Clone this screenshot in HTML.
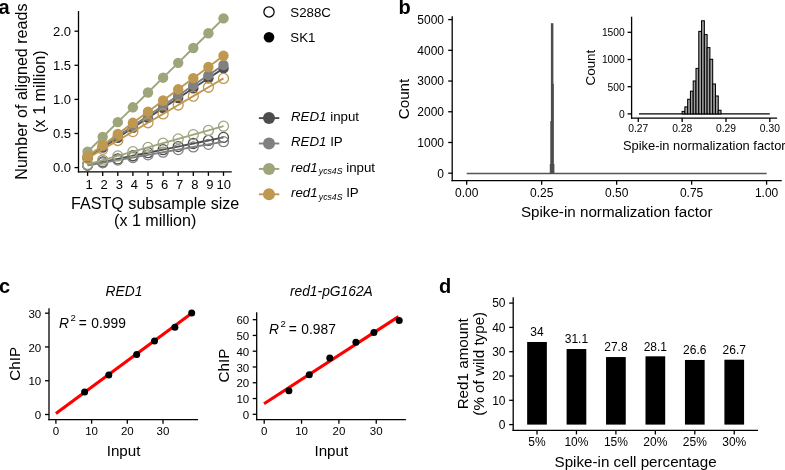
<!DOCTYPE html>
<html><head><meta charset="utf-8"><style>
html,body{margin:0;padding:0;background:#fff;}
svg{display:block;font-family:"Liberation Sans", sans-serif;will-change:transform;}
</style></head><body>
<svg width="785" height="470" viewBox="0 0 785 470">
<rect width="785" height="470" fill="#fff"/>
<text x="-1.50" y="14.30" font-size="20" text-anchor="start" font-weight="bold" font-style="normal" fill="#000" >a</text>
<line x1="78.50" y1="11.00" x2="78.50" y2="172.55" stroke="#000" stroke-width="1.3" stroke-linecap="butt"/>
<line x1="77.85" y1="171.90" x2="231.70" y2="171.90" stroke="#000" stroke-width="1.3" stroke-linecap="butt"/>
<line x1="74.50" y1="167.60" x2="78.50" y2="167.60" stroke="#000" stroke-width="1.3" stroke-linecap="butt"/>
<text x="71.00" y="172.40" font-size="13" text-anchor="end" font-weight="normal" font-style="normal" fill="#000" >0.0</text>
<line x1="74.50" y1="133.50" x2="78.50" y2="133.50" stroke="#000" stroke-width="1.3" stroke-linecap="butt"/>
<text x="71.00" y="138.30" font-size="13" text-anchor="end" font-weight="normal" font-style="normal" fill="#000" >0.5</text>
<line x1="74.50" y1="99.40" x2="78.50" y2="99.40" stroke="#000" stroke-width="1.3" stroke-linecap="butt"/>
<text x="71.00" y="104.20" font-size="13" text-anchor="end" font-weight="normal" font-style="normal" fill="#000" >1.0</text>
<line x1="74.50" y1="65.30" x2="78.50" y2="65.30" stroke="#000" stroke-width="1.3" stroke-linecap="butt"/>
<text x="71.00" y="70.10" font-size="13" text-anchor="end" font-weight="normal" font-style="normal" fill="#000" >1.5</text>
<line x1="74.50" y1="31.20" x2="78.50" y2="31.20" stroke="#000" stroke-width="1.3" stroke-linecap="butt"/>
<text x="71.00" y="36.00" font-size="13" text-anchor="end" font-weight="normal" font-style="normal" fill="#000" >2.0</text>
<line x1="87.60" y1="171.90" x2="87.60" y2="175.90" stroke="#000" stroke-width="1.3" stroke-linecap="butt"/>
<text x="89.10" y="189.30" font-size="13" text-anchor="middle" font-weight="normal" font-style="normal" fill="#000" >1</text>
<line x1="102.70" y1="171.90" x2="102.70" y2="175.90" stroke="#000" stroke-width="1.3" stroke-linecap="butt"/>
<text x="104.20" y="189.30" font-size="13" text-anchor="middle" font-weight="normal" font-style="normal" fill="#000" >2</text>
<line x1="117.80" y1="171.90" x2="117.80" y2="175.90" stroke="#000" stroke-width="1.3" stroke-linecap="butt"/>
<text x="119.30" y="189.30" font-size="13" text-anchor="middle" font-weight="normal" font-style="normal" fill="#000" >3</text>
<line x1="132.90" y1="171.90" x2="132.90" y2="175.90" stroke="#000" stroke-width="1.3" stroke-linecap="butt"/>
<text x="134.40" y="189.30" font-size="13" text-anchor="middle" font-weight="normal" font-style="normal" fill="#000" >4</text>
<line x1="148.00" y1="171.90" x2="148.00" y2="175.90" stroke="#000" stroke-width="1.3" stroke-linecap="butt"/>
<text x="149.50" y="189.30" font-size="13" text-anchor="middle" font-weight="normal" font-style="normal" fill="#000" >5</text>
<line x1="163.10" y1="171.90" x2="163.10" y2="175.90" stroke="#000" stroke-width="1.3" stroke-linecap="butt"/>
<text x="164.60" y="189.30" font-size="13" text-anchor="middle" font-weight="normal" font-style="normal" fill="#000" >6</text>
<line x1="178.20" y1="171.90" x2="178.20" y2="175.90" stroke="#000" stroke-width="1.3" stroke-linecap="butt"/>
<text x="179.70" y="189.30" font-size="13" text-anchor="middle" font-weight="normal" font-style="normal" fill="#000" >7</text>
<line x1="193.30" y1="171.90" x2="193.30" y2="175.90" stroke="#000" stroke-width="1.3" stroke-linecap="butt"/>
<text x="194.80" y="189.30" font-size="13" text-anchor="middle" font-weight="normal" font-style="normal" fill="#000" >8</text>
<line x1="208.40" y1="171.90" x2="208.40" y2="175.90" stroke="#000" stroke-width="1.3" stroke-linecap="butt"/>
<text x="209.90" y="189.30" font-size="13" text-anchor="middle" font-weight="normal" font-style="normal" fill="#000" >9</text>
<line x1="223.50" y1="171.90" x2="223.50" y2="175.90" stroke="#000" stroke-width="1.3" stroke-linecap="butt"/>
<text x="223.80" y="189.30" font-size="13" text-anchor="middle" font-weight="normal" font-style="normal" fill="#000" >10</text>
<text x="0" y="0" transform="translate(27.40,91.60) rotate(-90)" font-size="16.1" text-anchor="middle" >Number of aligned reads</text>
<text x="0" y="0" transform="translate(44.80,91.60) rotate(-90)" font-size="16.1" text-anchor="middle" >(x 1 million)</text>
<text x="155.20" y="208.70" font-size="16.1" text-anchor="middle" font-weight="normal" font-style="normal" fill="#000" >FASTQ subsample size</text>
<text x="155.20" y="225.90" font-size="16.1" text-anchor="middle" font-weight="normal" font-style="normal" fill="#000" >(x 1 million)</text>
<polyline fill="none" stroke="#4d4d4d" stroke-width="1.9" points="87.60,164.94 102.70,161.88 117.80,158.82 132.90,155.76 148.00,152.70 163.10,149.64 178.20,146.58 193.30,143.52 208.40,140.46 223.50,137.40"/>
<circle cx="87.60" cy="164.94" r="5.0" fill="none" stroke="#4d4d4d" stroke-width="1.3"/>
<circle cx="102.70" cy="161.88" r="5.0" fill="none" stroke="#4d4d4d" stroke-width="1.3"/>
<circle cx="117.80" cy="158.82" r="5.0" fill="none" stroke="#4d4d4d" stroke-width="1.3"/>
<circle cx="132.90" cy="155.76" r="5.0" fill="none" stroke="#4d4d4d" stroke-width="1.3"/>
<circle cx="148.00" cy="152.70" r="5.0" fill="none" stroke="#4d4d4d" stroke-width="1.3"/>
<circle cx="163.10" cy="149.64" r="5.0" fill="none" stroke="#4d4d4d" stroke-width="1.3"/>
<circle cx="178.20" cy="146.58" r="5.0" fill="none" stroke="#4d4d4d" stroke-width="1.3"/>
<circle cx="193.30" cy="143.52" r="5.0" fill="none" stroke="#4d4d4d" stroke-width="1.3"/>
<circle cx="208.40" cy="140.46" r="5.0" fill="none" stroke="#4d4d4d" stroke-width="1.3"/>
<circle cx="223.50" cy="137.40" r="5.0" fill="none" stroke="#4d4d4d" stroke-width="1.3"/>
<polyline fill="none" stroke="#4d4d4d" stroke-width="1.9" points="87.60,157.50 102.70,147.60 117.80,137.70 132.90,127.80 148.00,117.90 163.10,108.00 178.20,98.10 193.30,88.20 208.40,78.30 223.50,68.40"/>
<circle cx="87.60" cy="157.50" r="5.2" fill="#4d4d4d"/>
<circle cx="102.70" cy="147.60" r="5.2" fill="#4d4d4d"/>
<circle cx="117.80" cy="137.70" r="5.2" fill="#4d4d4d"/>
<circle cx="132.90" cy="127.80" r="5.2" fill="#4d4d4d"/>
<circle cx="148.00" cy="117.90" r="5.2" fill="#4d4d4d"/>
<circle cx="163.10" cy="108.00" r="5.2" fill="#4d4d4d"/>
<circle cx="178.20" cy="98.10" r="5.2" fill="#4d4d4d"/>
<circle cx="193.30" cy="88.20" r="5.2" fill="#4d4d4d"/>
<circle cx="208.40" cy="78.30" r="5.2" fill="#4d4d4d"/>
<circle cx="223.50" cy="68.40" r="5.2" fill="#4d4d4d"/>
<polyline fill="none" stroke="#808080" stroke-width="1.9" points="87.60,165.37 102.70,162.74 117.80,160.11 132.90,157.48 148.00,154.85 163.10,152.22 178.20,149.59 193.30,146.96 208.40,144.33 223.50,141.70"/>
<circle cx="87.60" cy="165.37" r="5.0" fill="none" stroke="#808080" stroke-width="1.3"/>
<circle cx="102.70" cy="162.74" r="5.0" fill="none" stroke="#808080" stroke-width="1.3"/>
<circle cx="117.80" cy="160.11" r="5.0" fill="none" stroke="#808080" stroke-width="1.3"/>
<circle cx="132.90" cy="157.48" r="5.0" fill="none" stroke="#808080" stroke-width="1.3"/>
<circle cx="148.00" cy="154.85" r="5.0" fill="none" stroke="#808080" stroke-width="1.3"/>
<circle cx="163.10" cy="152.22" r="5.0" fill="none" stroke="#808080" stroke-width="1.3"/>
<circle cx="178.20" cy="149.59" r="5.0" fill="none" stroke="#808080" stroke-width="1.3"/>
<circle cx="193.30" cy="146.96" r="5.0" fill="none" stroke="#808080" stroke-width="1.3"/>
<circle cx="208.40" cy="144.33" r="5.0" fill="none" stroke="#808080" stroke-width="1.3"/>
<circle cx="223.50" cy="141.70" r="5.0" fill="none" stroke="#808080" stroke-width="1.3"/>
<polyline fill="none" stroke="#808080" stroke-width="1.9" points="87.60,156.35 102.70,146.20 117.80,136.05 132.90,125.90 148.00,115.75 163.10,105.60 178.20,95.45 193.30,85.30 208.40,75.15 223.50,65.00"/>
<circle cx="87.60" cy="156.35" r="5.2" fill="#808080"/>
<circle cx="102.70" cy="146.20" r="5.2" fill="#808080"/>
<circle cx="117.80" cy="136.05" r="5.2" fill="#808080"/>
<circle cx="132.90" cy="125.90" r="5.2" fill="#808080"/>
<circle cx="148.00" cy="115.75" r="5.2" fill="#808080"/>
<circle cx="163.10" cy="105.60" r="5.2" fill="#808080"/>
<circle cx="178.20" cy="95.45" r="5.2" fill="#808080"/>
<circle cx="193.30" cy="85.30" r="5.2" fill="#808080"/>
<circle cx="208.40" cy="75.15" r="5.2" fill="#808080"/>
<circle cx="223.50" cy="65.00" r="5.2" fill="#808080"/>
<polyline fill="none" stroke="#9da57b" stroke-width="1.9" points="87.60,164.36 102.70,160.12 117.80,155.88 132.90,151.64 148.00,147.40 163.10,143.16 178.20,138.92 193.30,134.68 208.40,130.44 223.50,126.20"/>
<circle cx="87.60" cy="164.36" r="5.0" fill="none" stroke="#9da57b" stroke-width="1.3"/>
<circle cx="102.70" cy="160.12" r="5.0" fill="none" stroke="#9da57b" stroke-width="1.3"/>
<circle cx="117.80" cy="155.88" r="5.0" fill="none" stroke="#9da57b" stroke-width="1.3"/>
<circle cx="132.90" cy="151.64" r="5.0" fill="none" stroke="#9da57b" stroke-width="1.3"/>
<circle cx="148.00" cy="147.40" r="5.0" fill="none" stroke="#9da57b" stroke-width="1.3"/>
<circle cx="163.10" cy="143.16" r="5.0" fill="none" stroke="#9da57b" stroke-width="1.3"/>
<circle cx="178.20" cy="138.92" r="5.0" fill="none" stroke="#9da57b" stroke-width="1.3"/>
<circle cx="193.30" cy="134.68" r="5.0" fill="none" stroke="#9da57b" stroke-width="1.3"/>
<circle cx="208.40" cy="130.44" r="5.0" fill="none" stroke="#9da57b" stroke-width="1.3"/>
<circle cx="223.50" cy="126.20" r="5.0" fill="none" stroke="#9da57b" stroke-width="1.3"/>
<polyline fill="none" stroke="#9da57b" stroke-width="1.9" points="87.60,151.78 102.70,136.96 117.80,122.14 132.90,107.32 148.00,92.50 163.10,77.68 178.20,62.86 193.30,48.04 208.40,33.22 223.50,18.40"/>
<circle cx="87.60" cy="151.78" r="5.2" fill="#9da57b"/>
<circle cx="102.70" cy="136.96" r="5.2" fill="#9da57b"/>
<circle cx="117.80" cy="122.14" r="5.2" fill="#9da57b"/>
<circle cx="132.90" cy="107.32" r="5.2" fill="#9da57b"/>
<circle cx="148.00" cy="92.50" r="5.2" fill="#9da57b"/>
<circle cx="163.10" cy="77.68" r="5.2" fill="#9da57b"/>
<circle cx="178.20" cy="62.86" r="5.2" fill="#9da57b"/>
<circle cx="193.30" cy="48.04" r="5.2" fill="#9da57b"/>
<circle cx="208.40" cy="33.22" r="5.2" fill="#9da57b"/>
<circle cx="223.50" cy="18.40" r="5.2" fill="#9da57b"/>
<polyline fill="none" stroke="#be9850" stroke-width="1.9" points="87.60,158.23 102.70,149.36 117.80,140.49 132.90,131.62 148.00,122.75 163.10,113.88 178.20,105.01 193.30,96.14 208.40,87.27 223.50,78.40"/>
<circle cx="87.60" cy="158.23" r="5.0" fill="none" stroke="#be9850" stroke-width="1.3"/>
<circle cx="102.70" cy="149.36" r="5.0" fill="none" stroke="#be9850" stroke-width="1.3"/>
<circle cx="117.80" cy="140.49" r="5.0" fill="none" stroke="#be9850" stroke-width="1.3"/>
<circle cx="132.90" cy="131.62" r="5.0" fill="none" stroke="#be9850" stroke-width="1.3"/>
<circle cx="148.00" cy="122.75" r="5.0" fill="none" stroke="#be9850" stroke-width="1.3"/>
<circle cx="163.10" cy="113.88" r="5.0" fill="none" stroke="#be9850" stroke-width="1.3"/>
<circle cx="178.20" cy="105.01" r="5.0" fill="none" stroke="#be9850" stroke-width="1.3"/>
<circle cx="193.30" cy="96.14" r="5.0" fill="none" stroke="#be9850" stroke-width="1.3"/>
<circle cx="208.40" cy="87.27" r="5.0" fill="none" stroke="#be9850" stroke-width="1.3"/>
<circle cx="223.50" cy="78.40" r="5.0" fill="none" stroke="#be9850" stroke-width="1.3"/>
<polyline fill="none" stroke="#be9850" stroke-width="1.9" points="87.60,156.33 102.70,145.16 117.80,133.99 132.90,122.82 148.00,111.65 163.10,100.48 178.20,89.31 193.30,78.14 208.40,66.97 223.50,55.80"/>
<circle cx="87.60" cy="156.33" r="5.2" fill="#be9850"/>
<circle cx="102.70" cy="145.16" r="5.2" fill="#be9850"/>
<circle cx="117.80" cy="133.99" r="5.2" fill="#be9850"/>
<circle cx="132.90" cy="122.82" r="5.2" fill="#be9850"/>
<circle cx="148.00" cy="111.65" r="5.2" fill="#be9850"/>
<circle cx="163.10" cy="100.48" r="5.2" fill="#be9850"/>
<circle cx="178.20" cy="89.31" r="5.2" fill="#be9850"/>
<circle cx="193.30" cy="78.14" r="5.2" fill="#be9850"/>
<circle cx="208.40" cy="66.97" r="5.2" fill="#be9850"/>
<circle cx="223.50" cy="55.80" r="5.2" fill="#be9850"/>
<circle cx="269" cy="11.9" r="5.1" fill="none" stroke="#000" stroke-width="1.25"/>
<circle cx="269" cy="37.2" r="5.3" fill="#000"/>
<text x="290.30" y="17.00" font-size="13.3" text-anchor="start" font-weight="normal" font-style="normal" fill="#000" >S288C</text>
<text x="290.30" y="41.70" font-size="13.3" text-anchor="start" font-weight="normal" font-style="normal" fill="#000" >SK1</text>
<line x1="258.90" y1="118.10" x2="279.30" y2="118.10" stroke="#4d4d4d" stroke-width="1.9" stroke-linecap="butt"/>
<circle cx="269" cy="118.1" r="6.0" fill="#4d4d4d"/>
<text x="291.00" y="121.00" font-size="13.3" text-anchor="start" font-weight="normal" font-style="normal" fill="#000" ><tspan font-style="italic">RED1</tspan> input</text>
<line x1="258.90" y1="143.50" x2="279.30" y2="143.50" stroke="#808080" stroke-width="1.9" stroke-linecap="butt"/>
<circle cx="269" cy="143.5" r="6.0" fill="#808080"/>
<text x="291.00" y="146.40" font-size="13.3" text-anchor="start" font-weight="normal" font-style="normal" fill="#000" ><tspan font-style="italic">RED1</tspan> IP</text>
<line x1="258.90" y1="168.90" x2="279.30" y2="168.90" stroke="#9da57b" stroke-width="1.9" stroke-linecap="butt"/>
<circle cx="269" cy="168.9" r="6.0" fill="#9da57b"/>
<text x="291.00" y="171.80" font-size="13.3" text-anchor="start" font-weight="normal" font-style="normal" fill="#000" ><tspan font-style="italic">red1</tspan><tspan font-size="8.7" font-style="italic" dx="1.2" dy="2.3">ycs4S</tspan><tspan dy="-2.3"> input</tspan></text>
<line x1="258.90" y1="194.30" x2="279.30" y2="194.30" stroke="#be9850" stroke-width="1.9" stroke-linecap="butt"/>
<circle cx="269" cy="194.3" r="6.0" fill="#be9850"/>
<text x="291.00" y="197.20" font-size="13.3" text-anchor="start" font-weight="normal" font-style="normal" fill="#000" ><tspan font-style="italic">red1</tspan><tspan font-size="8.7" font-style="italic" dx="1.2" dy="2.3">ycs4S</tspan><tspan dy="-2.3"> IP</tspan></text>
<text x="398.50" y="14.30" font-size="20" text-anchor="start" font-weight="bold" font-style="normal" fill="#000" >b</text>
<line x1="452.20" y1="16.30" x2="452.20" y2="181.35" stroke="#000" stroke-width="1.3" stroke-linecap="butt"/>
<line x1="451.55" y1="180.70" x2="781.70" y2="180.70" stroke="#000" stroke-width="1.3" stroke-linecap="butt"/>
<line x1="448.20" y1="173.20" x2="452.20" y2="173.20" stroke="#000" stroke-width="1.3" stroke-linecap="butt"/>
<text x="444.00" y="177.50" font-size="12" text-anchor="end" font-weight="normal" font-style="normal" fill="#000" >0</text>
<line x1="448.20" y1="142.48" x2="452.20" y2="142.48" stroke="#000" stroke-width="1.3" stroke-linecap="butt"/>
<text x="444.00" y="146.78" font-size="12" text-anchor="end" font-weight="normal" font-style="normal" fill="#000" >1000</text>
<line x1="448.20" y1="111.76" x2="452.20" y2="111.76" stroke="#000" stroke-width="1.3" stroke-linecap="butt"/>
<text x="444.00" y="116.06" font-size="12" text-anchor="end" font-weight="normal" font-style="normal" fill="#000" >2000</text>
<line x1="448.20" y1="81.04" x2="452.20" y2="81.04" stroke="#000" stroke-width="1.3" stroke-linecap="butt"/>
<text x="444.00" y="85.34" font-size="12" text-anchor="end" font-weight="normal" font-style="normal" fill="#000" >3000</text>
<line x1="448.20" y1="50.32" x2="452.20" y2="50.32" stroke="#000" stroke-width="1.3" stroke-linecap="butt"/>
<text x="444.00" y="54.62" font-size="12" text-anchor="end" font-weight="normal" font-style="normal" fill="#000" >4000</text>
<line x1="448.20" y1="19.60" x2="452.20" y2="19.60" stroke="#000" stroke-width="1.3" stroke-linecap="butt"/>
<text x="444.00" y="23.90" font-size="12" text-anchor="end" font-weight="normal" font-style="normal" fill="#000" >5000</text>
<line x1="466.70" y1="180.70" x2="466.70" y2="184.70" stroke="#000" stroke-width="1.3" stroke-linecap="butt"/>
<text x="466.70" y="196.60" font-size="12" text-anchor="middle" font-weight="normal" font-style="normal" fill="#000" >0.00</text>
<line x1="541.67" y1="180.70" x2="541.67" y2="184.70" stroke="#000" stroke-width="1.3" stroke-linecap="butt"/>
<text x="541.67" y="196.60" font-size="12" text-anchor="middle" font-weight="normal" font-style="normal" fill="#000" >0.25</text>
<line x1="616.65" y1="180.70" x2="616.65" y2="184.70" stroke="#000" stroke-width="1.3" stroke-linecap="butt"/>
<text x="616.65" y="196.60" font-size="12" text-anchor="middle" font-weight="normal" font-style="normal" fill="#000" >0.50</text>
<line x1="691.62" y1="180.70" x2="691.62" y2="184.70" stroke="#000" stroke-width="1.3" stroke-linecap="butt"/>
<text x="691.62" y="196.60" font-size="12" text-anchor="middle" font-weight="normal" font-style="normal" fill="#000" >0.75</text>
<line x1="766.60" y1="180.70" x2="766.60" y2="184.70" stroke="#000" stroke-width="1.3" stroke-linecap="butt"/>
<text x="766.60" y="196.60" font-size="12" text-anchor="middle" font-weight="normal" font-style="normal" fill="#000" >1.00</text>
<line x1="466.70" y1="173.50" x2="766.70" y2="173.50" stroke="#555" stroke-width="1.3" stroke-linecap="butt"/>
<rect x="550.9" y="23.2" width="2.5" height="150" fill="#4d4d4d"/>
<rect x="552.2" y="83.8" width="1.6" height="89.4" fill="#4d4d4d"/>
<rect x="550.3" y="121" width="1.6" height="52.2" fill="#4d4d4d"/>
<rect x="549.8" y="164" width="4.6" height="9.2" fill="#4d4d4d"/>
<text x="0" y="0" transform="translate(409.40,99.00) rotate(-90)" font-size="15.2" text-anchor="middle" >Count</text>
<text x="616.70" y="216.80" font-size="15.2" text-anchor="middle" font-weight="normal" font-style="normal" fill="#000" >Spike-in normalization factor</text>
<line x1="631.60" y1="16.70" x2="631.60" y2="118.75" stroke="#000" stroke-width="1.3" stroke-linecap="butt"/>
<line x1="630.95" y1="118.10" x2="777.10" y2="118.10" stroke="#000" stroke-width="1.3" stroke-linecap="butt"/>
<line x1="627.60" y1="113.90" x2="631.60" y2="113.90" stroke="#000" stroke-width="1.3" stroke-linecap="butt"/>
<text x="624.80" y="117.70" font-size="10.3" text-anchor="end" font-weight="normal" font-style="normal" fill="#000" >0</text>
<line x1="627.60" y1="86.70" x2="631.60" y2="86.70" stroke="#000" stroke-width="1.3" stroke-linecap="butt"/>
<text x="624.80" y="90.50" font-size="10.3" text-anchor="end" font-weight="normal" font-style="normal" fill="#000" >500</text>
<line x1="627.60" y1="59.50" x2="631.60" y2="59.50" stroke="#000" stroke-width="1.3" stroke-linecap="butt"/>
<text x="624.80" y="63.30" font-size="10.3" text-anchor="end" font-weight="normal" font-style="normal" fill="#000" >1000</text>
<line x1="627.60" y1="32.30" x2="631.60" y2="32.30" stroke="#000" stroke-width="1.3" stroke-linecap="butt"/>
<text x="624.80" y="36.10" font-size="10.3" text-anchor="end" font-weight="normal" font-style="normal" fill="#000" >1500</text>
<line x1="638.30" y1="118.10" x2="638.30" y2="122.10" stroke="#000" stroke-width="1.3" stroke-linecap="butt"/>
<text x="638.30" y="132.00" font-size="10.3" text-anchor="middle" font-weight="normal" font-style="normal" fill="#000" >0.27</text>
<line x1="682.15" y1="118.10" x2="682.15" y2="122.10" stroke="#000" stroke-width="1.3" stroke-linecap="butt"/>
<text x="682.15" y="132.00" font-size="10.3" text-anchor="middle" font-weight="normal" font-style="normal" fill="#000" >0.28</text>
<line x1="726.00" y1="118.10" x2="726.00" y2="122.10" stroke="#000" stroke-width="1.3" stroke-linecap="butt"/>
<text x="726.00" y="132.00" font-size="10.3" text-anchor="middle" font-weight="normal" font-style="normal" fill="#000" >0.29</text>
<line x1="769.85" y1="118.10" x2="769.85" y2="122.10" stroke="#000" stroke-width="1.3" stroke-linecap="butt"/>
<text x="769.85" y="132.00" font-size="10.3" text-anchor="middle" font-weight="normal" font-style="normal" fill="#000" >0.30</text>
<line x1="639.00" y1="113.90" x2="769.80" y2="113.90" stroke="#000" stroke-width="1.1" stroke-linecap="butt"/>
<rect x="682.10" y="111.40" width="2.78" height="2.50" fill="#a0a0a0" stroke="#000" stroke-width="1.05"/>
<rect x="684.88" y="106.90" width="2.78" height="7.00" fill="#a0a0a0" stroke="#000" stroke-width="1.05"/>
<rect x="687.66" y="99.30" width="2.78" height="14.60" fill="#a0a0a0" stroke="#000" stroke-width="1.05"/>
<rect x="690.44" y="91.20" width="2.78" height="22.70" fill="#a0a0a0" stroke="#000" stroke-width="1.05"/>
<rect x="693.22" y="81.00" width="2.78" height="32.90" fill="#a0a0a0" stroke="#000" stroke-width="1.05"/>
<rect x="696.00" y="68.40" width="2.78" height="45.50" fill="#a0a0a0" stroke="#000" stroke-width="1.05"/>
<rect x="698.78" y="31.40" width="2.78" height="82.50" fill="#a0a0a0" stroke="#000" stroke-width="1.05"/>
<rect x="701.56" y="20.80" width="2.78" height="93.10" fill="#a0a0a0" stroke="#000" stroke-width="1.05"/>
<rect x="704.34" y="34.60" width="2.78" height="79.30" fill="#a0a0a0" stroke="#000" stroke-width="1.05"/>
<rect x="707.12" y="47.60" width="2.78" height="66.30" fill="#a0a0a0" stroke="#000" stroke-width="1.05"/>
<rect x="709.90" y="59.30" width="2.78" height="54.60" fill="#a0a0a0" stroke="#000" stroke-width="1.05"/>
<rect x="712.68" y="84.00" width="2.78" height="29.90" fill="#a0a0a0" stroke="#000" stroke-width="1.05"/>
<rect x="715.46" y="96.00" width="2.78" height="17.90" fill="#a0a0a0" stroke="#000" stroke-width="1.05"/>
<rect x="718.24" y="110.30" width="2.78" height="3.60" fill="#a0a0a0" stroke="#000" stroke-width="1.05"/>
<text x="0" y="0" transform="translate(594.80,67.60) rotate(-90)" font-size="13.4" text-anchor="middle" >Count</text>
<text x="704.30" y="150.20" font-size="12.9" text-anchor="middle" font-weight="normal" font-style="normal" fill="#000" >Spike-in normalization factor</text>
<text x="-1.00" y="292.90" font-size="20" text-anchor="start" font-weight="bold" font-style="normal" fill="#000" >c</text>
<line x1="49.00" y1="308.30" x2="49.00" y2="420.35" stroke="#000" stroke-width="1.3" stroke-linecap="butt"/>
<line x1="48.35" y1="419.70" x2="198.00" y2="419.70" stroke="#000" stroke-width="1.3" stroke-linecap="butt"/>
<line x1="45.00" y1="414.50" x2="49.00" y2="414.50" stroke="#000" stroke-width="1.3" stroke-linecap="butt"/>
<text x="41.20" y="419.10" font-size="11.5" text-anchor="end" font-weight="normal" font-style="normal" fill="#000" >0</text>
<line x1="45.00" y1="380.73" x2="49.00" y2="380.73" stroke="#000" stroke-width="1.3" stroke-linecap="butt"/>
<text x="41.20" y="385.33" font-size="11.5" text-anchor="end" font-weight="normal" font-style="normal" fill="#000" >10</text>
<line x1="45.00" y1="346.96" x2="49.00" y2="346.96" stroke="#000" stroke-width="1.3" stroke-linecap="butt"/>
<text x="41.20" y="351.56" font-size="11.5" text-anchor="end" font-weight="normal" font-style="normal" fill="#000" >20</text>
<line x1="45.00" y1="313.19" x2="49.00" y2="313.19" stroke="#000" stroke-width="1.3" stroke-linecap="butt"/>
<text x="41.20" y="317.79" font-size="11.5" text-anchor="end" font-weight="normal" font-style="normal" fill="#000" >30</text>
<line x1="55.90" y1="419.70" x2="55.90" y2="423.70" stroke="#000" stroke-width="1.3" stroke-linecap="butt"/>
<text x="55.90" y="435.20" font-size="11.5" text-anchor="middle" font-weight="normal" font-style="normal" fill="#000" >0</text>
<line x1="91.60" y1="419.70" x2="91.60" y2="423.70" stroke="#000" stroke-width="1.3" stroke-linecap="butt"/>
<text x="91.60" y="435.20" font-size="11.5" text-anchor="middle" font-weight="normal" font-style="normal" fill="#000" >10</text>
<line x1="127.30" y1="419.70" x2="127.30" y2="423.70" stroke="#000" stroke-width="1.3" stroke-linecap="butt"/>
<text x="127.30" y="435.20" font-size="11.5" text-anchor="middle" font-weight="normal" font-style="normal" fill="#000" >20</text>
<line x1="163.00" y1="419.70" x2="163.00" y2="423.70" stroke="#000" stroke-width="1.3" stroke-linecap="butt"/>
<text x="163.00" y="435.20" font-size="11.5" text-anchor="middle" font-weight="normal" font-style="normal" fill="#000" >30</text>
<text x="124.00" y="296.10" font-size="13.8" text-anchor="middle" font-weight="normal" font-style="italic" fill="#000" >RED1</text>
<line x1="55.90" y1="413.40" x2="191.70" y2="313.30" stroke="#ff0000" stroke-width="3.1" stroke-linecap="butt"/>
<circle cx="84.6" cy="392" r="3.5" fill="#000"/>
<circle cx="108.8" cy="374.9" r="3.5" fill="#000"/>
<circle cx="136.7" cy="354.5" r="3.5" fill="#000"/>
<circle cx="154.5" cy="340.9" r="3.5" fill="#000"/>
<circle cx="174.9" cy="327.2" r="3.5" fill="#000"/>
<circle cx="191.7" cy="313.1" r="3.5" fill="#000"/>
<text x="58.9" y="327.9" font-size="13.8"><tspan font-style="italic">R</tspan><tspan font-size="9.6" dy="-6.9" dx="1.6">2</tspan><tspan dy="6.9" dx="3.0">=</tspan><tspan dx="0.6"> 0.999</tspan></text>
<text x="0" y="0" transform="translate(19.80,363.75) rotate(-90)" font-size="15.2" text-anchor="middle" >ChIP</text>
<text x="123.60" y="455.60" font-size="15.2" text-anchor="middle" font-weight="normal" font-style="normal" fill="#000" >Input</text>
<line x1="256.70" y1="312.20" x2="256.70" y2="420.35" stroke="#000" stroke-width="1.3" stroke-linecap="butt"/>
<line x1="256.05" y1="419.70" x2="405.90" y2="419.70" stroke="#000" stroke-width="1.3" stroke-linecap="butt"/>
<line x1="252.70" y1="414.30" x2="256.70" y2="414.30" stroke="#000" stroke-width="1.3" stroke-linecap="butt"/>
<text x="249.20" y="418.90" font-size="11.5" text-anchor="end" font-weight="normal" font-style="normal" fill="#000" >0</text>
<line x1="252.70" y1="398.53" x2="256.70" y2="398.53" stroke="#000" stroke-width="1.3" stroke-linecap="butt"/>
<text x="249.20" y="403.13" font-size="11.5" text-anchor="end" font-weight="normal" font-style="normal" fill="#000" >10</text>
<line x1="252.70" y1="382.76" x2="256.70" y2="382.76" stroke="#000" stroke-width="1.3" stroke-linecap="butt"/>
<text x="249.20" y="387.36" font-size="11.5" text-anchor="end" font-weight="normal" font-style="normal" fill="#000" >20</text>
<line x1="252.70" y1="366.99" x2="256.70" y2="366.99" stroke="#000" stroke-width="1.3" stroke-linecap="butt"/>
<text x="249.20" y="371.59" font-size="11.5" text-anchor="end" font-weight="normal" font-style="normal" fill="#000" >30</text>
<line x1="252.70" y1="351.22" x2="256.70" y2="351.22" stroke="#000" stroke-width="1.3" stroke-linecap="butt"/>
<text x="249.20" y="355.82" font-size="11.5" text-anchor="end" font-weight="normal" font-style="normal" fill="#000" >40</text>
<line x1="252.70" y1="335.45" x2="256.70" y2="335.45" stroke="#000" stroke-width="1.3" stroke-linecap="butt"/>
<text x="249.20" y="340.05" font-size="11.5" text-anchor="end" font-weight="normal" font-style="normal" fill="#000" >50</text>
<line x1="252.70" y1="319.68" x2="256.70" y2="319.68" stroke="#000" stroke-width="1.3" stroke-linecap="butt"/>
<text x="249.20" y="324.28" font-size="11.5" text-anchor="end" font-weight="normal" font-style="normal" fill="#000" >60</text>
<line x1="264.20" y1="419.70" x2="264.20" y2="423.70" stroke="#000" stroke-width="1.3" stroke-linecap="butt"/>
<text x="264.20" y="435.20" font-size="11.5" text-anchor="middle" font-weight="normal" font-style="normal" fill="#000" >0</text>
<line x1="301.55" y1="419.70" x2="301.55" y2="423.70" stroke="#000" stroke-width="1.3" stroke-linecap="butt"/>
<text x="301.55" y="435.20" font-size="11.5" text-anchor="middle" font-weight="normal" font-style="normal" fill="#000" >10</text>
<line x1="338.90" y1="419.70" x2="338.90" y2="423.70" stroke="#000" stroke-width="1.3" stroke-linecap="butt"/>
<text x="338.90" y="435.20" font-size="11.5" text-anchor="middle" font-weight="normal" font-style="normal" fill="#000" >20</text>
<line x1="376.25" y1="419.70" x2="376.25" y2="423.70" stroke="#000" stroke-width="1.3" stroke-linecap="butt"/>
<text x="376.25" y="435.20" font-size="11.5" text-anchor="middle" font-weight="normal" font-style="normal" fill="#000" >30</text>
<text x="331.35" y="296.00" font-size="13.8" text-anchor="middle" font-weight="normal" font-style="italic" fill="#000" >red1-pG162A</text>
<line x1="264.00" y1="403.70" x2="398.50" y2="316.60" stroke="#ff0000" stroke-width="3.1" stroke-linecap="butt"/>
<circle cx="288.9" cy="390.7" r="3.5" fill="#000"/>
<circle cx="309.3" cy="374.7" r="3.5" fill="#000"/>
<circle cx="329.8" cy="358.1" r="3.5" fill="#000"/>
<circle cx="355.9" cy="342.2" r="3.5" fill="#000"/>
<circle cx="373.9" cy="332.4" r="3.5" fill="#000"/>
<circle cx="399.2" cy="320.5" r="3.5" fill="#000"/>
<text x="268.9" y="333.5" font-size="13.8"><tspan font-style="italic">R</tspan><tspan font-size="9.6" dy="-6.9" dx="1.6">2</tspan><tspan dy="6.9" dx="3.0">=</tspan><tspan dx="0.6"> 0.987</tspan></text>
<text x="0" y="0" transform="translate(229.10,365.50) rotate(-90)" font-size="15.2" text-anchor="middle" >ChIP</text>
<text x="331.30" y="455.60" font-size="15.2" text-anchor="middle" font-weight="normal" font-style="normal" fill="#000" >Input</text>
<text x="439.00" y="292.70" font-size="20" text-anchor="start" font-weight="bold" font-style="normal" fill="#000" >d</text>
<line x1="513.20" y1="297.20" x2="513.20" y2="431.05" stroke="#000" stroke-width="1.3" stroke-linecap="butt"/>
<line x1="512.55" y1="430.40" x2="758.00" y2="430.40" stroke="#000" stroke-width="1.3" stroke-linecap="butt"/>
<line x1="509.20" y1="424.60" x2="513.20" y2="424.60" stroke="#000" stroke-width="1.3" stroke-linecap="butt"/>
<text x="505.50" y="428.90" font-size="12" text-anchor="end" font-weight="normal" font-style="normal" fill="#000" >0</text>
<line x1="509.20" y1="400.30" x2="513.20" y2="400.30" stroke="#000" stroke-width="1.3" stroke-linecap="butt"/>
<text x="505.50" y="404.60" font-size="12" text-anchor="end" font-weight="normal" font-style="normal" fill="#000" >10</text>
<line x1="509.20" y1="376.00" x2="513.20" y2="376.00" stroke="#000" stroke-width="1.3" stroke-linecap="butt"/>
<text x="505.50" y="380.30" font-size="12" text-anchor="end" font-weight="normal" font-style="normal" fill="#000" >20</text>
<line x1="509.20" y1="351.70" x2="513.20" y2="351.70" stroke="#000" stroke-width="1.3" stroke-linecap="butt"/>
<text x="505.50" y="356.00" font-size="12" text-anchor="end" font-weight="normal" font-style="normal" fill="#000" >30</text>
<line x1="509.20" y1="327.40" x2="513.20" y2="327.40" stroke="#000" stroke-width="1.3" stroke-linecap="butt"/>
<text x="505.50" y="331.70" font-size="12" text-anchor="end" font-weight="normal" font-style="normal" fill="#000" >40</text>
<line x1="509.20" y1="303.10" x2="513.20" y2="303.10" stroke="#000" stroke-width="1.3" stroke-linecap="butt"/>
<text x="505.50" y="307.40" font-size="12" text-anchor="end" font-weight="normal" font-style="normal" fill="#000" >50</text>
<rect x="527.15" y="341.98" width="19.7" height="82.62" fill="#000"/>
<text x="537.00" y="336.38" font-size="12" text-anchor="middle" font-weight="normal" font-style="normal" fill="#000" >34</text>
<line x1="537.00" y1="430.40" x2="537.00" y2="434.40" stroke="#000" stroke-width="1.3" stroke-linecap="butt"/>
<text x="537.00" y="446.40" font-size="12" text-anchor="middle" font-weight="normal" font-style="normal" fill="#000" >5%</text>
<rect x="566.60" y="349.03" width="19.7" height="75.57" fill="#000"/>
<text x="576.45" y="343.43" font-size="12" text-anchor="middle" font-weight="normal" font-style="normal" fill="#000" >31.1</text>
<line x1="576.45" y1="430.40" x2="576.45" y2="434.40" stroke="#000" stroke-width="1.3" stroke-linecap="butt"/>
<text x="576.45" y="446.40" font-size="12" text-anchor="middle" font-weight="normal" font-style="normal" fill="#000" >10%</text>
<rect x="606.05" y="357.05" width="19.7" height="67.55" fill="#000"/>
<text x="615.90" y="351.45" font-size="12" text-anchor="middle" font-weight="normal" font-style="normal" fill="#000" >27.8</text>
<line x1="615.90" y1="430.40" x2="615.90" y2="434.40" stroke="#000" stroke-width="1.3" stroke-linecap="butt"/>
<text x="615.90" y="446.40" font-size="12" text-anchor="middle" font-weight="normal" font-style="normal" fill="#000" >15%</text>
<rect x="645.50" y="356.32" width="19.7" height="68.28" fill="#000"/>
<text x="655.35" y="350.72" font-size="12" text-anchor="middle" font-weight="normal" font-style="normal" fill="#000" >28.1</text>
<line x1="655.35" y1="430.40" x2="655.35" y2="434.40" stroke="#000" stroke-width="1.3" stroke-linecap="butt"/>
<text x="655.35" y="446.40" font-size="12" text-anchor="middle" font-weight="normal" font-style="normal" fill="#000" >20%</text>
<rect x="684.95" y="359.96" width="19.7" height="64.64" fill="#000"/>
<text x="694.80" y="354.36" font-size="12" text-anchor="middle" font-weight="normal" font-style="normal" fill="#000" >26.6</text>
<line x1="694.80" y1="430.40" x2="694.80" y2="434.40" stroke="#000" stroke-width="1.3" stroke-linecap="butt"/>
<text x="694.80" y="446.40" font-size="12" text-anchor="middle" font-weight="normal" font-style="normal" fill="#000" >25%</text>
<rect x="724.40" y="359.72" width="19.7" height="64.88" fill="#000"/>
<text x="734.25" y="354.12" font-size="12" text-anchor="middle" font-weight="normal" font-style="normal" fill="#000" >26.7</text>
<line x1="734.25" y1="430.40" x2="734.25" y2="434.40" stroke="#000" stroke-width="1.3" stroke-linecap="butt"/>
<text x="734.25" y="446.40" font-size="12" text-anchor="middle" font-weight="normal" font-style="normal" fill="#000" >30%</text>
<text x="0" y="0" transform="translate(467.90,363.75) rotate(-90)" font-size="15.2" text-anchor="middle" >Red1 amount</text>
<text x="0" y="0" transform="translate(484.20,363.75) rotate(-90)" font-size="15.2" text-anchor="middle" >(% of wild type)</text>
<text x="635.60" y="466.50" font-size="15.2" text-anchor="middle" font-weight="normal" font-style="normal" fill="#000" >Spike-in cell percentage</text>
</svg>
</body></html>
